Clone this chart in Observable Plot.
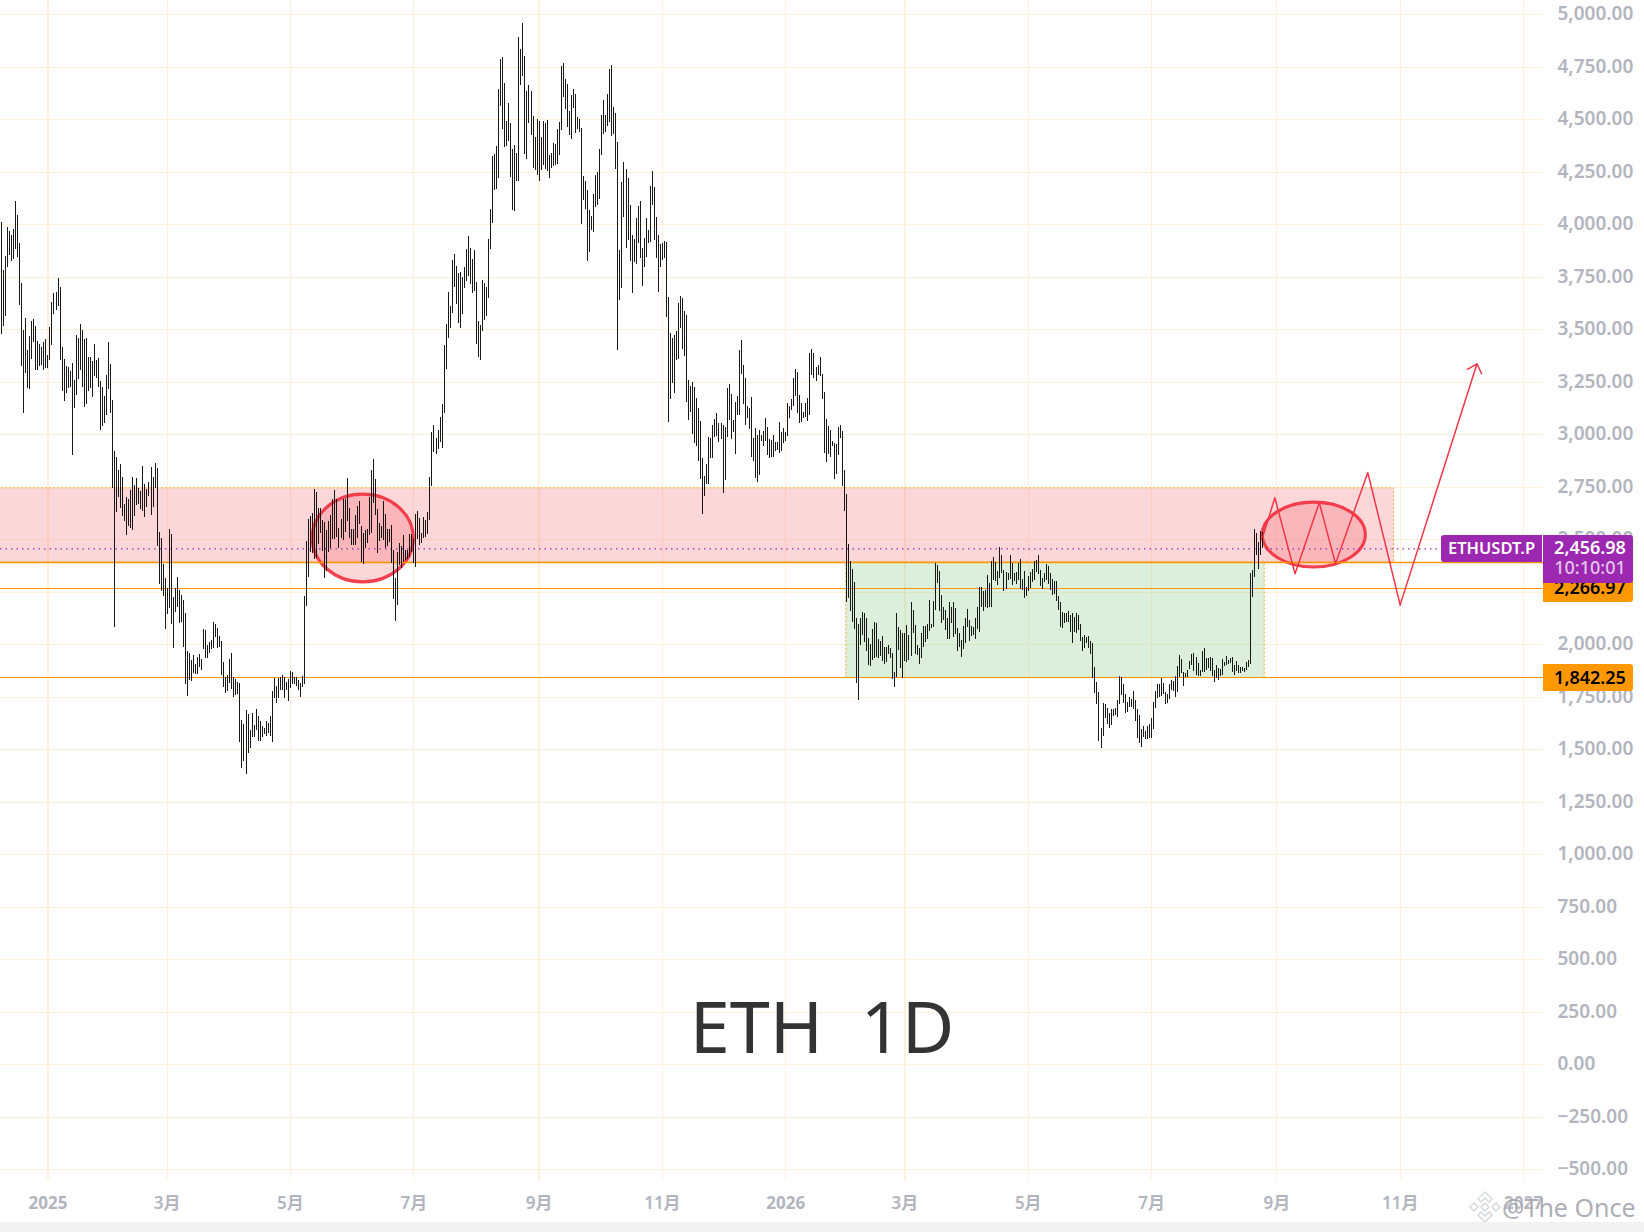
<!DOCTYPE html>
<html>
<head>
<meta charset="utf-8">
<script src="https://cdn.jsdelivr.net/npm/d3@7"></script>
<script src="https://cdn.jsdelivr.net/npm/@observablehq/plot@0.6"></script>
<style>
html,body{margin:0;padding:0;background:#fff;}
#wrap{position:relative;width:1644px;height:1232px;overflow:hidden;font-family:"Noto Sans","Noto Sans CJK SC",sans-serif;}
#wrap svg{display:block;}
.barmark line{shape-rendering:crispEdges;}
.tag{position:absolute;box-sizing:border-box;text-align:center;font-size:18px;font-weight:600;line-height:20px;}
#band{position:absolute;left:0;right:0;top:1222px;height:10px;background:#f2f2f3;}
#mark{position:absolute;left:1502px;top:1190px;font-size:25px;line-height:34px;color:rgba(110,112,125,.58);text-shadow:0 0 2px #fff;white-space:nowrap;}
#logo{position:absolute;left:1468px;top:1190px;}
</style>
</head>
<body>
<div id="wrap"></div>
<script>
const barStart = "2024-12-09";
const barHigh = [
4009,3782,3849,3986,3967,3949,3976,4109,4043,3909,
3721,3495,3552,3400,3467,3538,3548,3514,3443,3430,
3414,3440,3452,3376,3510,3629,3671,3676,3743,3700,
3414,3357,3324,3319,3300,3338,3257,3471,3457,3524,
3495,3452,3457,3367,3367,3348,3429,3352,3362,3252,
3224,3181,3281,3438,3333,3162,2919,2891,2830,2857,
2795,2666,2700,2692,2735,2795,2757,2790,2743,2730,
2849,2762,2738,2771,2843,2795,2862,2838,2533,2505,
2381,2314,2270,2547,2523,2227,2270,2319,2257,2235,
2211,2150,1970,1959,1925,1951,1908,1940,1952,1930,
2071,2067,1997,2011,2019,2105,2098,2076,2041,2014,
1916,1846,1854,1928,1957,1846,1835,1821,1814,1640,
1619,1686,1668,1592,1673,1616,1690,1660,1636,1613,
1600,1635,1625,1659,1778,1838,1802,1838,1843,1854,
1846,1821,1835,1873,1870,1846,1846,1830,1817,1849,
2230,2492,2598,2611,2624,2738,2724,2648,2648,2592,
2584,2543,2587,2614,2690,2735,2692,2552,2598,2690,
2692,2790,2648,2548,2548,2616,2659,2681,2563,2529,
2545,2549,2703,2830,2881,2786,2643,2576,2564,2683,
2621,2549,2549,2568,2449,2316,2438,2481,2468,2521,
2449,2449,2525,2524,2503,2621,2634,2600,2529,2606,
2592,2630,2795,3011,3044,2981,3021,3083,3144,3425,
3525,3678,3611,3830,3859,3801,3768,3773,3749,3797,
3882,3944,3887,3835,3878,3725,3540,3521,3735,3720,
3701,3930,4071,4325,4335,4373,4644,4786,4795,4671,
4492,4578,4482,4357,4378,4338,4890,4833,4957,4801,
4635,4663,4635,4516,4414,4501,4492,4414,4492,4482,
4497,4330,4338,4386,4381,4452,4487,4754,4767,4690,
4668,4538,4616,4643,4621,4511,4502,4459,4230,4206,
4163,4068,4040,4144,4235,4249,4359,4521,4592,4521,
4621,4740,4757,4559,4530,4392,3878,4202,4295,4263,
4220,4092,3949,3930,4029,4087,4110,3887,3935,4029,
3973,4183,4254,4178,4035,3949,3906,3911,3921,3916,
3652,3481,3457,3471,3492,3624,3659,3648,3586,3568,
3257,3228,3248,3224,3171,3124,3062,2886,2800,2857,
2986,2981,3043,3071,3100,3052,3052,3043,3033,3219,
3238,3194,3068,3154,3183,3400,3448,3328,3267,3133,
3125,3176,2982,3028,2997,3019,2995,3016,3076,3033,
2978,2973,2997,2963,2963,3057,3009,3030,3011,3148,
3135,3167,3267,3309,3297,3186,3148,3105,3148,3173,
3386,3405,3386,3322,3328,3367,3286,3200,3071,3040,
3021,2967,2957,2954,3035,3043,3016,2829,2714,2478,
2395,2359,2297,2124,2097,2125,2152,2148,2124,2029,
2002,2073,2105,2100,2024,2016,2040,1986,1987,1997,
1981,1960,1867,2149,2082,2068,2052,2052,2092,2043,
2200,2163,2090,1997,1984,2052,2086,2087,2097,2211,
2095,2206,2387,2378,2349,2235,2176,2163,2124,2200,
2176,2200,2171,2076,2052,2021,2086,2124,2167,2114,
2086,2081,2124,2176,2271,2271,2252,2259,2330,2290,
2395,2414,2392,2348,2462,2425,2354,2346,2338,2425,
2389,2338,2346,2386,2405,2309,2351,2274,2325,2343,
2359,2398,2401,2425,2354,2314,2338,2381,2373,2338,
2309,2302,2302,2230,2200,2156,2148,2148,2159,2140,
2147,2128,2147,2140,2097,2033,2044,2033,2040,2017,
2005,1890,1819,1771,1601,1719,1716,1695,1671,1692,
1692,1697,1735,1849,1843,1811,1763,1727,1751,1738,
1778,1735,1692,1663,1597,1611,1587,1611,1620,1647,
1725,1779,1811,1811,1838,1814,1774,1763,1811,1830,
1827,1849,1898,1949,1930,1870,1865,1878,1920,1954,
1957,1938,1909,1878,1966,1981,1933,1936,1938,1933,
1878,1901,1886,1881,1930,1917,1944,1925,1933,1938,
1901,1922,1901,1890,1893,1886,1917,1924,2338,2354,
2549,2532,2486,2540,2535];
const barLow = [
3479,3517,3565,3798,3856,3827,3833,3884,3846,3617,
3327,3103,3294,3222,3218,3360,3441,3308,3308,3324,
3329,3308,3318,3318,3356,3427,3575,3594,3613,3356,
3208,3160,3198,3222,3227,2903,3127,3189,3265,3308,
3227,3132,3146,3208,3222,3179,3279,3270,3227,3022,
3041,3056,3094,3218,3103,2743,2084,2632,2703,2650,
2612,2587,2522,2563,2554,2546,2612,2662,2666,2643,
2636,2608,2652,2708,2617,2652,2743,2470,2289,2255,
2232,2074,2146,2174,2098,1984,2155,2179,2103,2108,
1989,1811,1756,1832,1825,1862,1860,1860,1894,1878,
1978,1933,1936,1957,1978,1983,2036,1981,1989,1854,
1798,1770,1779,1814,1786,1751,1759,1762,1536,1413,
1446,1384,1481,1506,1560,1560,1592,1540,1541,1560,
1573,1565,1576,1563,1536,1746,1722,1743,1783,1784,
1746,1783,1732,1790,1811,1811,1803,1783,1751,1798,
1811,2184,2319,2438,2435,2406,2413,2478,2532,2446,
2317,2351,2441,2457,2500,2500,2511,2457,2508,2497,
2535,2587,2505,2471,2471,2475,2505,2573,2392,2384,
2460,2483,2521,2532,2675,2616,2437,2492,2505,2497,
2457,2468,2489,2386,2218,2113,2189,2376,2362,2391,
2402,2408,2418,2438,2386,2370,2503,2475,2484,2505,
2511,2525,2592,2754,2918,2908,2932,2965,2937,3103,
3313,3459,3506,3578,3701,3620,3530,3506,3573,3697,
3730,3754,3716,3673,3682,3430,3368,3354,3492,3544,
3563,3649,3881,4008,4163,4168,4222,4565,4456,4370,
4373,4398,4227,4068,4065,4206,4208,4665,4706,4335,
4313,4484,4425,4270,4259,4235,4208,4259,4283,4263,
4254,4222,4270,4278,4283,4287,4330,4449,4605,4551,
4463,4425,4406,4554,4436,4454,4440,4002,4116,4073,
3825,3868,3973,3964,4083,4092,4121,4330,4430,4440,
4468,4487,4421,4430,4263,3402,3640,3697,4035,3887,
3925,3825,3673,3821,3811,3911,3840,3706,3797,3844,
3911,3916,4092,3925,3840,3678,3797,3830,3840,3559,
3060,3170,3246,3198,3355,3360,3508,3408,3375,3156,
3070,3108,3003,2960,2946,2875,2789,2622,2708,2765,
2765,2889,2889,2986,2992,2965,2979,2722,2784,2989,
3068,2979,3011,2908,3092,3092,3286,3146,3044,3078,
3025,2892,2873,2794,2775,2806,2967,2944,2967,2902,
2887,2892,2892,2921,2924,2911,2921,2959,2968,2992,
3079,3116,3135,3182,3102,3054,3059,3076,3082,3063,
3092,3282,3268,3254,3282,3278,3170,2911,2868,2908,
2892,2944,2787,2811,2902,2982,2754,2636,2203,2221,
2159,2106,2073,1816,1737,1997,2043,2010,1967,1902,
1897,1925,1935,1941,1933,1943,1921,1906,1914,1954,
1933,1837,1798,1844,1973,1887,1838,1922,1917,1925,
1946,2052,1954,1949,1908,1933,1989,2013,2024,2065,
2076,2084,2163,2294,2157,2103,2117,2068,2027,2024,
2103,2033,2049,1968,1986,1941,1979,2008,2082,2016,
2041,2043,2025,2071,2060,2176,2160,2176,2171,2176,
2179,2306,2303,2282,2317,2341,2254,2262,2306,2309,
2282,2303,2286,2306,2263,2259,2222,2232,2254,2267,
2298,2306,2346,2335,2278,2263,2298,2306,2286,2259,
2235,2240,2208,2163,2084,2079,2100,2106,2108,2059,
2008,2060,2055,2068,2017,1970,1984,2005,1984,1954,
1840,1770,1716,1541,1508,1565,1648,1621,1603,1616,
1660,1663,1654,1714,1757,1719,1673,1679,1703,1703,
1692,1636,1554,1532,1513,1560,1551,1551,1554,1552,
1597,1698,1746,1748,1754,1763,1714,1722,1738,1782,
1779,1751,1774,1846,1862,1803,1843,1843,1880,1903,
1874,1854,1849,1849,1870,1867,1878,1889,1874,1849,
1822,1838,1830,1849,1854,1897,1901,1906,1909,1870,
1854,1874,1865,1865,1874,1870,1878,1890,1906,2227,
2322,2425,2359,2425,2458];

const priceTicks = [-500,-250,0,250,500,750,1000,1250,1500,1750,2000,2250,2500,2750,3000,3250,3500,3750,4000,4250,4500,4750,5000];
const monthTicks = ["2025-03-01","2025-05-01","2025-07-01","2025-09-01","2025-11-01","2026-03-01","2026-05-01","2026-07-01","2026-09-01","2026-11-01"];
const yearTicks = ["2025-01-01","2026-01-01","2027-01-01"];

const redZone = [{from:"2024-12-01", to:"2026-10-29", low:2392, high:2745}];
const greenZone = [{from:"2026-01-31", to:"2026-08-26", low:1842.25, high:2392}];
const ellipses = [
  {from:"2025-05-12", to:"2025-07-01", low:2297, high:2715},
  {from:"2026-08-25", to:"2026-10-15", low:2368, high:2677}
];
const zigDates = ["2026-08-25","2026-08-31","2026-09-10","2026-09-22","2026-09-30","2026-10-16","2026-11-01"];
const zigPrices = [2513,2700,2338,2677,2386,2820,2190];
const arrowEnd = {date:"2026-12-09", price:3338};
const supportTop = 2392;
const supportLines = [2266.97,1842.25];
const lastPrice = 2456.98;

const D = s => new Date(s+"T00:00:00Z");
const DAY = 864e5;
const bars = barHigh.map((h,i)=>({date:new Date(+D(barStart)+i*DAY), high:h, low:barLow[i]}));
const zig = zigDates.map((d,i)=>({date:D(d), price:zigPrices[i]}));
const zigLast = zig[zig.length-1];
const rally = [{x1:zigLast.date, y1:zigLast.price, x2:D(arrowEnd.date), y2:arrowEnd.price}];
const asDate = a => a.map(D);
const fmtMonth = d => (d.getUTCMonth()+1)+"月";
const fmtYear = d => String(d.getUTCFullYear());

const gridColor = "#fff0dc";
const labelColor = "#b2b5be";
const red = "#f23645";
const zoneEdge = "#ffa726";

const ellipseMark = (index, {x, y}) => {
  const g = d3.create("svg:g");
  for (const e of ellipses) {
    const a = x(D(e.from)), b = x(D(e.to)), t = y(e.high), u = y(e.low);
    g.append("ellipse").attr("cx",(a+b)/2).attr("cy",(t+u)/2)
      .attr("rx",(b-a)/2).attr("ry",(u-t)/2)
      .attr("fill",red).attr("fill-opacity",0.2)
      .attr("stroke",red).attr("stroke-opacity",0.95).attr("stroke-width",3.2);
  }
  return g.node();
};

const plot = Plot.plot({
  width:1644, height:1232,
  marginLeft:0, marginRight:101, marginTop:0, marginBottom:51,
  style:{background:"transparent", overflow:"visible"},
  x:{type:"utc", domain:[new Date("2024-12-08T13:00:00Z"), new Date("2027-01-10T22:00:00Z")]},
  y:{domain:[-555.7,5068]},
  marks:[
    Plot.ruleY(priceTicks,{stroke:gridColor,strokeWidth:1.2,shapeRendering:"crispEdges"}),
    Plot.ruleX(asDate([...monthTicks,...yearTicks]),{stroke:gridColor,strokeWidth:1.2,shapeRendering:"crispEdges"}),
    Plot.axisY({anchor:"right",ticks:priceTicks,tickSize:0,tickPadding:14,textAnchor:"start",dy:-0.5,tickFormat:d3.format(",.2f"),label:null,fill:labelColor,fontSize:19,fontWeight:600,fontFamily:"Noto Sans"}),
    Plot.axisX({anchor:"bottom",ticks:asDate(monthTicks),tickSize:0,tickPadding:15,tickFormat:fmtMonth,label:null,fill:labelColor,fontSize:17,fontWeight:600,fontFamily:"Noto Sans, Noto Sans CJK SC"}),
    Plot.axisX({anchor:"bottom",ticks:asDate(yearTicks),tickSize:0,tickPadding:15,tickFormat:fmtYear,label:null,fill:labelColor,fontSize:17,fontWeight:700,fontFamily:"Noto Sans"}),
    Plot.rect(redZone,{x1:d=>D(d.from),x2:d=>D(d.to),y1:"low",y2:"high",fill:red,fillOpacity:0.2,stroke:zoneEdge,strokeWidth:1,strokeDasharray:"2,2",clip:"frame"}),
    Plot.rect(greenZone,{x1:d=>D(d.from),x2:d=>D(d.to),y1:"low",y2:"high",fill:"#4caf50",fillOpacity:0.2,stroke:zoneEdge,strokeWidth:1,strokeDasharray:"2,2"}),
    ellipseMark,
    Plot.ruleY([supportTop],{stroke:"#ff9800",strokeWidth:1.5}),
    Plot.ruleY(supportLines,{stroke:"#ff9800",strokeWidth:1,shapeRendering:"crispEdges"}),
    Plot.ruleY([lastPrice],{stroke:"#9c27b0",strokeWidth:1.2,strokeDasharray:"1.5,4"}),
    Plot.ruleX(bars,{x:"date",y1:"low",y2:"high",stroke:"#000",strokeWidth:0.9,className:"barmark"}),
    Plot.line(zig,{x:"date",y:"price",stroke:red,strokeWidth:1.5}),
    Plot.arrow(rally,{x1:"x1",y1:"y1",x2:"x2",y2:"y2",stroke:red,strokeWidth:1.5,headLength:11,headAngle:85,bend:0}),
    Plot.text(["ETH  1D"],{x:()=>D("2026-01-19"),y:()=>168,text:d=>d,fontSize:72,fontWeight:400,fill:"#333",fontFamily:"Noto Sans",lineAnchor:"middle",textAnchor:"middle"})
  ]
});

const wrap = document.getElementById("wrap");
wrap.appendChild(plot);
const yAt = v => plot.scale("y").apply(v);

function tag(text,left,width,top,height,bg,color,radius,extra){
  const e=document.createElement("div");
  e.className="tag";
  e.style.cssText=`left:${left}px;width:${width}px;top:${top}px;height:${height}px;background:${bg};color:${color};border-radius:${radius};padding-top:${(height-20)/2}px;`+(extra||"");
  e.textContent=text;
  wrap.appendChild(e);
  return e;
}
tag(d3.format(",.2f")(2266.97),1543,90,yAt(2266.97)-13.5,27,"#ff9800","#000","0 3px 3px 0","padding-left:4px;padding-top:2.5px;");
tag(d3.format(",.2f")(1842.25),1543,90,yAt(1842.25)-13.5,27,"#ff9800","#000","0 3px 3px 0","padding-left:4px;");
const P="#9c27b0";
tag("ETHUSDT.P",1441,101,yAt(lastPrice)-13.5,27,P,"#fff","3px 0 0 3px","font-size:16.5px;");
const box=tag("",1543,90,yAt(lastPrice)-13.5,48,P,"#fff","0 3px 3px 0","padding-top:2px;padding-left:4px;");
const a=document.createElement("div");a.textContent=d3.format(",.2f")(lastPrice);box.appendChild(a);
const b=document.createElement("div");b.textContent="10:10:01";b.style.cssText="opacity:.72;font-weight:500;";box.appendChild(b);

const band=document.createElement("div");band.id="band";wrap.appendChild(band);
const logo=`<svg id="logo" width="34" height="34" viewBox="-17 -17 34 34"><g fill="#fff" stroke="#d3d4da" stroke-width="1.3"><path d="M0 -15 L7 -8 L4 -5 L0 -9 L-4 -5 L-7 -8Z"/><path d="M0 15 L7 8 L4 5 L0 9 L-4 5 L-7 8Z"/><path d="M-11 -4 L-7 0 L-11 4 L-15 0Z"/><path d="M11 -4 L15 0 L11 4 L7 0Z"/><path d="M0 -4 L4 0 L0 4 L-4 0Z"/></g></svg>`;
wrap.insertAdjacentHTML("beforeend",logo);
const m=document.createElement("div");m.id="mark";m.textContent="@The Once";wrap.appendChild(m);
</script>
</body>
</html>
